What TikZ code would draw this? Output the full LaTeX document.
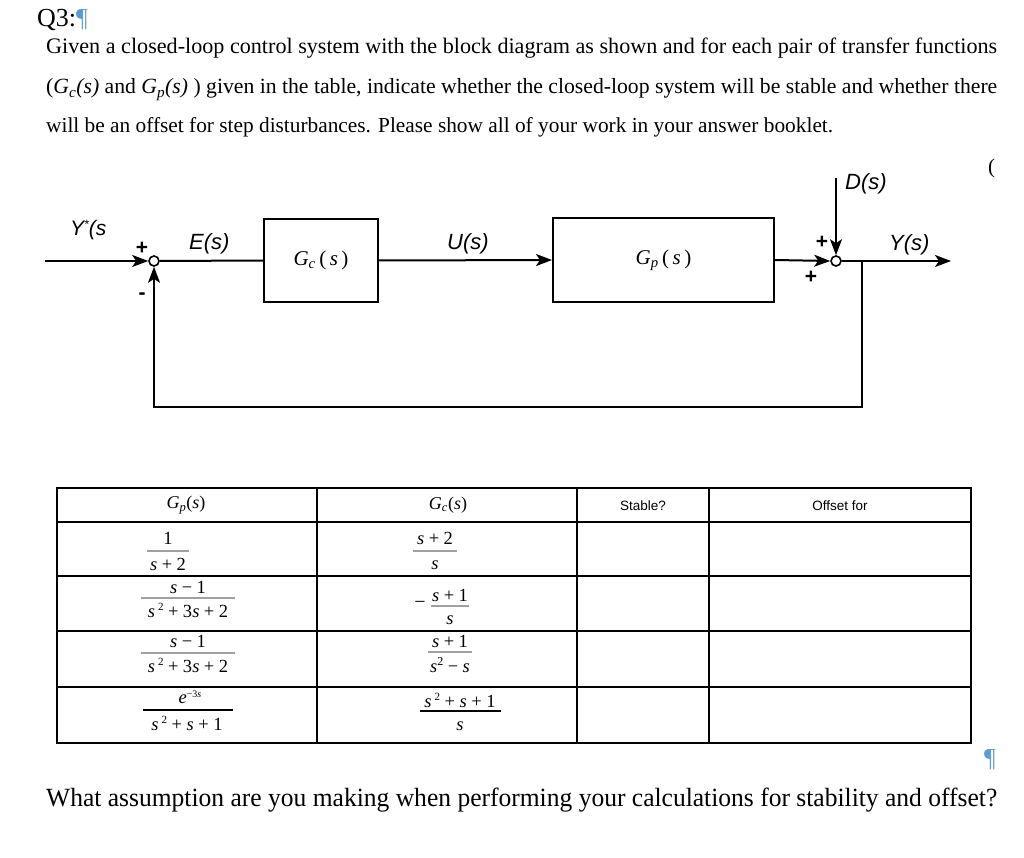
\documentclass[tikz,border=0pt]{standalone}
\usepackage{fontspec}
\setmainfont{Liberation Serif}
\setsansfont{Liberation Sans}
\usetikzlibrary{arrows.meta}
\definecolor{pil}{HTML}{5B9BD5}
\definecolor{barg}{HTML}{A0A0A0}
\newcommand\xS{\textit{s}}
\newcommand\xP{\hspace{4.5pt}+\hspace{4.5pt}}
\newcommand\xM{\hspace{4.5pt}−\hspace{4.5pt}}
\newcommand\xSq{\textit{s}\hspace{3pt}\raisebox{7pt}{\fontsize{11}{11}\selectfont 2}}
\newcommand\xSqt{\textit{s}\raisebox{7pt}{\fontsize{12}{12}\selectfont 2}}
\tikzset{
 txt/.style={inner sep=0pt, anchor=base west, font=\fontsize{21}{25}\selectfont},
 lbl/.style={inner sep=0pt, anchor=base west, font=\sffamily\itshape\fontsize{22}{26}\selectfont},
 sgn/.style={inner sep=0pt, font=\sffamily\bfseries\fontsize{21}{24}\selectfont},
 blk/.style={draw, line width=2pt, inner sep=0pt, font=\fontsize{21}{24}\selectfont},
 wire/.style={line width=2pt},
 arr/.style={wire, -{Stealth[length=16pt,width=12pt,inset=4pt]}},
 sumc/.style={circle, draw, fill=white, line width=1.6pt, minimum size=10pt, inner sep=0pt},
 tline/.style={line width=2pt},
 fr/.style={inner sep=0pt, font=\fontsize{18.5}{20}\selectfont},
 hd/.style={inner sep=0pt, font=\fontsize{18}{21}\selectfont},
 hds/.style={inner sep=0pt, font=\sffamily\fontsize{13.5}{16}\selectfont},
 gbar/.style={line width=1.5pt, draw=barg},
 kbar/.style={line width=1.5pt, draw=black},
}
\begin{document}
\begin{tikzpicture}[x=1pt,y=-1pt]
\useasboundingbox (0,0) rectangle (1024,858);
% ---------- text ----------
\node[txt, font=\fontsize{26}{30}\selectfont] (q3) at (37,27) {Q3:\textcolor{pil}{¶}};
\node[txt] (l1) at (46,54) {\resizebox{951pt}{!}{Given a closed-loop control system with the block diagram as shown and for each pair of transfer functions}};
\node[txt] (l2) at (46,94) {\resizebox{951pt}{!}{(\textit{G\textsubscript{c}(s)} and \textit{G\textsubscript{p}(s)} ) given in the table, indicate whether the closed-loop system will be stable and whether there}};
\node[txt] (l3) at (46,133) {\resizebox{787pt}{!}{will be an offset for step disturbances. Please show all of your work in your answer booklet.}};
\node[txt] (par) at (988,174) {(};
% ---------- block diagram ----------
\node[sumc] (s1) at (154,261) {};
\node[blk, minimum width=114pt, minimum height=83pt] (gc) at (321,260.5) {\textit{G}\textsubscript{\textit{c}}\,(\,\textit{s}\,)};
\node[blk, minimum width=221pt, minimum height=84pt] (gp) at (663.5,260) {\textit{G}\textsubscript{\textit{p}}\,(\,\textit{s}\,)};
\node[sumc] (s2) at (836,261) {};
\coordinate (in) at (45,261);
\coordinate (dtop) at (836,178);
\coordinate (out) at (951,261);
\coordinate (tap) at (862,261);
\coordinate (fbr) at (862,407);
\coordinate (fbl) at (154,407);
\draw[arr] (in) -- (s1.west);
\draw[wire] (s1.east) -- (gc.west);
\draw[arr] (gc.east) -- (gp.west);
\draw[arr] (gp.east) -- (s2.west);
\draw[arr] (dtop) -- (s2.north);
\draw[arr] (s2.east) -- (out);
\draw[arr] (tap) -- (fbr) -- (fbl) -- (s1.south);
\node[lbl, font=\sffamily\itshape\fontsize{21}{24}\selectfont] (ystar) at (70,236) {Y\raisebox{7pt}{\fontsize{12}{12}\selectfont *}(s};
\node[lbl] (es) at (189,250) {E(s)};
\node[lbl] (us) at (447,250) {U(s)};
\node[lbl] (ds) at (845,190) {D(s)};
\node[lbl] (ys) at (889,251) {Y(s)};
\node[sgn] (p1) at (142,248) {+};
\node[sgn] (m1) at (142,296) {-};
\node[sgn] (p2) at (822,242) {+};
\node[sgn] (p3) at (811,277) {+};
% ---------- table ----------
\draw[tline] (57,488) rectangle (971,743);
\foreach \xx in {317,577,709} \draw[tline] (\xx,488) -- (\xx,743);
\foreach \yy in {522,576,631,687} \draw[tline] (57,\yy) -- (971,\yy);
\node[hd] (h1) at (186,505) {\textit{G\textsubscript{p}}(\textit{s})};
\node[hd] (h2) at (448,505) {\textit{G\textsubscript{c}}(\textit{s})};
\node[hds] (h3) at (643,506) {Stable?};
\node[hds] (h4) at (840,506) {Offset for};
% Gp column
\node[fr] (a1n) at (168,538) {1};
\draw[gbar] (147,551) -- (189,551);
\node[fr] (a1d) at (168,564) {\xS\xP2};
\node[fr] (a2n) at (188,587) {\xS\xM1};
\draw[gbar] (141,598) -- (235,598);
\node[fr] (a2d) at (188,610) {\xSq\xP3\xS\xP2};
\node[fr] (a3n) at (188,641) {\xS\xM1};
\draw[gbar] (141,653) -- (235,653);
\node[fr] (a3d) at (188,665) {\xSq\xP3\xS\xP2};
\node[fr] (a4n) at (190,697) {\textit{e}\raisebox{6pt}{\fontsize{10}{10}\selectfont −3\textit{s}}};
\draw[kbar] (143,710) -- (233,710);
\node[fr] (a4d) at (187,723) {\xSq\xP\xS\xP1};
% Gc column
\node[fr] (b1n) at (435,538) {\xS\xP2};
\draw[gbar] (413,551) -- (457,551);
\node[fr] (b1d) at (435,565) {\xS};
\node[fr, font=\fontsize{20}{22}\selectfont] (b2m) at (420,605) {−};
\node[fr] (b2n) at (450,595) {\xS\xP1};
\draw[gbar] (431,606) -- (469,606);
\node[fr] (b2d) at (450,620) {\xS};
\node[fr] (b3n) at (450,641) {\xS\xP1};
\draw[gbar] (428,652) -- (472,652);
\node[fr] (b3d) at (450,665) {\xSqt\xM\xS};
\node[fr] (b4n) at (460,700) {\xSq\xP\xS\xP1};
\draw[kbar] (420,711) -- (501,711);
\node[fr] (b4d) at (460,726) {\xS};
% ---------- bottom ----------
\node[txt, font=\fontsize{26}{30}\selectfont] (par2) at (984,766) {\textcolor{pil}{¶}};
\node[txt] (q) at (46,806) {\resizebox{951pt}{18.5pt}{What assumption are you making when performing your calculations for stability and offset?}};
\end{tikzpicture}
\end{document}
